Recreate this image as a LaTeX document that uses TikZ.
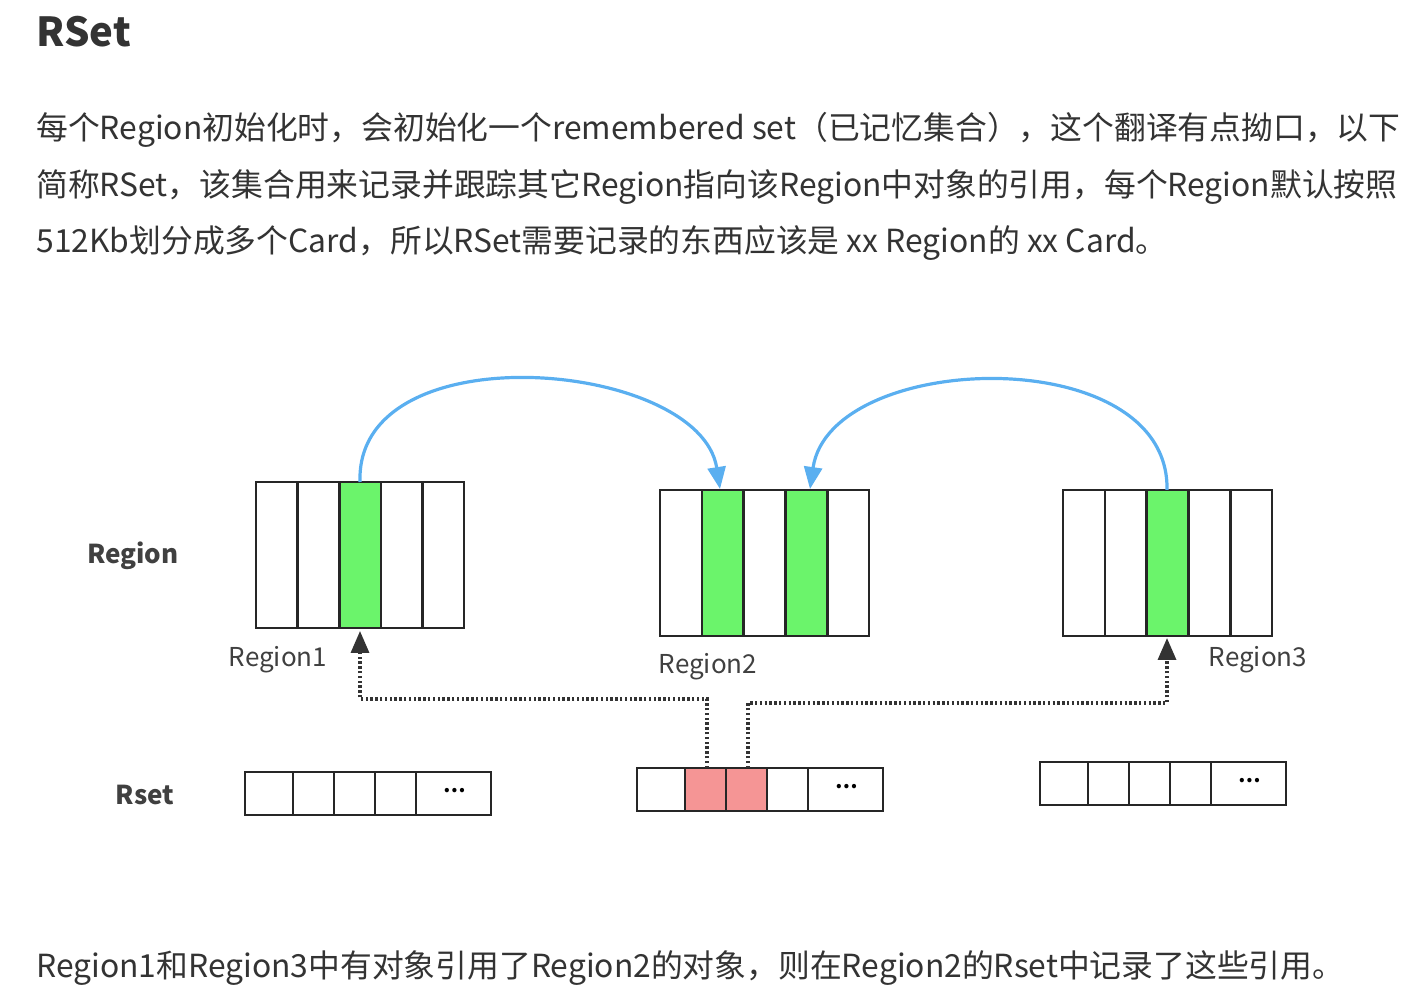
\documentclass[tikz,border=0pt]{standalone}
\usepackage{fontspec}
\setmainfont{Noto Sans CJK SC}
\usetikzlibrary{arrows.meta}
\definecolor{gr}{HTML}{6BF46B}
\definecolor{pk}{HTML}{F59595}
\definecolor{bl}{HTML}{5AAFF0}
\definecolor{tx}{HTML}{333333}
\tikzset{
 cell/.style={draw=black!85,line width=1.3pt},
 para/.style={anchor=west,inner sep=0,text=tx,font=\fontsize{15.9}{18}\selectfont},
 lab/.style={text=black!75,inner sep=0,font=\fontsize{13}{15}\selectfont},
 curv/.style={draw=bl,line width=1.6pt,-{Triangle[length=11pt,width=9pt]}},
 dot/.style={draw=black!80,line width=1.7pt,dash pattern=on 1.2pt off 1.2pt,-{Triangle[length=11pt,width=9pt]}}
}
\begin{document}
\begin{tikzpicture}[x=0.5pt,y=-0.5pt]
\useasboundingbox (0,0) rectangle (1424,1004);
\node[anchor=west,inner sep=0,text=tx,font=\fontsize{20}{22}\selectfont\bfseries] (t) at (36,32) {RSet};
\node[para] (p1) at (36,130) {每个Region初始化时，会初始化一个remembered set（已记忆集合），这个翻译有点拗口，以下};
\node[para] (p2) at (36,187) {简称RSet，该集合用来记录并跟踪其它Region指向该Region中对象的引用，每个Region默认按照};
\node[para] (p3) at (36,243) {512Kb划分成多个Card，所以RSet需要记录的东西应该是 xx Region的 xx Card。};
\node[para] (p4) at (36,968) {Region1和Region3中有对象引用了Region2的对象，则在Region2的Rset中记录了这些引用。};
% regions
\foreach \i in {0,...,4}{
 \path[cell] (256+\i*41.6,482) rectangle +(41.6,146);
 \path[cell] (660+\i*41.8,490) rectangle +(41.8,146);
 \path[cell] (1063+\i*41.8,490) rectangle +(41.8,146);}
\path[cell,fill=gr] (339.2,482) rectangle +(41.6,146);
\path[cell,fill=gr] (701.8,490) rectangle +(41.8,146);
\path[cell,fill=gr] (785.4,490) rectangle +(41.8,146);
\path[cell,fill=gr] (1146.6,490) rectangle +(41.8,146);
% rsets
\foreach \x/\y in {245/772,637/768,1040/762}{
 \path[cell] (\x,\y) rectangle +(48,43);
 \foreach \i in {0,...,2}{\path[cell] (\x+48+\i*41,\y) rectangle +(41,43);}
 \path[cell] (\x+171,\y) rectangle +(75,43);
 \node[inner sep=0,font=\fontsize{10}{10}\selectfont\bfseries] at (\x+210,\y+19) {…};}
\path[cell,fill=pk] (685,768) rectangle +(41,43);
\path[cell,fill=pk] (726,768) rectangle +(41,43);
% labels
\node[lab,font=\fontsize{13}{15}\selectfont\bfseries] (lr) at (133,556) {Region};
\node[lab,font=\fontsize{13}{15}\selectfont\bfseries] (ls) at (145,795) {Rset};
\node[lab] (l1) at (278,660) {Region1};
\node[lab] (l2) at (708,667) {Region2};
\node[lab] (l3) at (1258,660) {Region3};
% coordinates
\coordinate (a1) at (360,482); \coordinate (a2) at (720,489);
\coordinate (b1) at (1167,490); \coordinate (b2) at (810,489);
\coordinate (s1) at (707,768); \coordinate (s2) at (748,768);
\coordinate (r1) at (360,631); \coordinate (r3) at (1167,638);
\draw[curv] (a1) .. controls (355,330) and (700,360) .. (a2);
\draw[curv] (b1) .. controls (1170,340) and (830,350) .. (b2);
\draw[dot] (s1) |- (360,699) -- (r1);
\draw[dot] (s2) |- (1167,703) -- (r3);
\end{tikzpicture}
\end{document}
